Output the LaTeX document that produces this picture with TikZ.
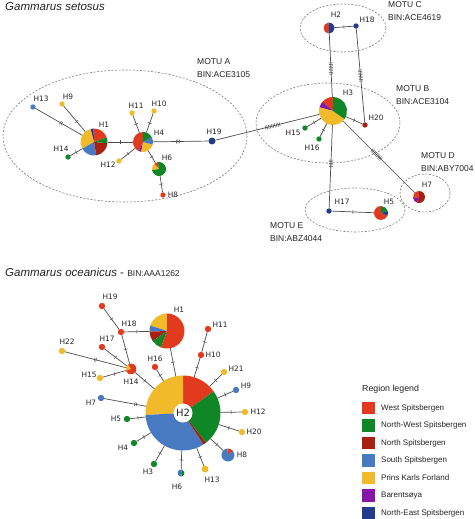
\documentclass[tikz,border=0pt]{standalone}
\usepackage{fontspec}
\setmainfont{Liberation Sans}
\newfontfamily\hfont{DejaVu Sans}
\usetikzlibrary{decorations.markings}
\definecolor{cW}{RGB}{226,58,30}
\definecolor{cNW}{RGB}{16,135,38}
\definecolor{cN}{RGB}{168,32,18}
\definecolor{cS}{RGB}{72,122,194}
\definecolor{cP}{RGB}{240,186,42}
\definecolor{cB}{RGB}{135,22,168}
\definecolor{cNE}{RGB}{36,58,140}
\definecolor{edgec}{RGB}{75,75,75}
\definecolor{motuc}{RGB}{120,120,120}
\definecolor{txtc}{RGB}{35,35,35}
\tikzset{
  dot/.style={circle, fill=#1, inner sep=0pt, outer sep=0pt, minimum size=5.4pt},
  bdot/.style={circle, fill=#1, inner sep=0pt, outer sep=0pt, minimum size=6.4pt},
  lbl/.style={font=\hfont\fontsize{7.4}{8}\selectfont, inner sep=0pt, text=txtc},
  motu/.style={draw=motuc, dash pattern=on 2pt off 1.6pt, line width=0.6pt},
  motutxt/.style={font=\fontsize{8.5}{13}\selectfont, align=left, anchor=north west, inner sep=0pt, text=txtc},
  link/.style={draw=edgec, line width=0.7pt},
  sq/.style={minimum size=12.5pt, inner sep=0pt, outer sep=0pt},
  legtxt/.style={font=\fontsize{8}{9}\selectfont, anchor=west, inner sep=0pt, text=txtc},
  ticks/.style n args={2}{postaction={decorate, decoration={markings,
     mark=at position #2 with {\foreach \k in {1,...,#1}{\draw[edgec, line width=0.5pt] ({(\k-(#1+1)/2)*1.6pt},-2pt) -- ++(0pt,4pt);}}}}}
}
\newcommand\lnk[4]{\path[link, ticks={#3}{#4}] (#1) -- (#2);}
\newcommand\piechart[4]{%
  \node[circle, inner sep=0pt, outer sep=0pt, minimum size=#3*2pt] (#1) at (#2) {};
  \foreach \a/\b/\c in {#4}{\fill[\c] (#1.center) -- ++(\a:#3pt) arc[start angle=\a, end angle=\b, radius=#3pt] -- cycle;}%
}
\begin{document}
\begin{tikzpicture}[x=1pt,y=-1pt]
\useasboundingbox (0,0) rectangle (474,519);
% titles
\node[anchor=base west, inner sep=0pt, font=\itshape\fontsize{11.5}{13}\selectfont, text=txtc] (title1) at (5,11) {Gammarus setosus};
\node[anchor=base west, inner sep=0pt, font=\fontsize{11.5}{13}\selectfont, text=txtc] (title2) at (5,276) {\textit{Gammarus oceanicus} - {\fontsize{8.5}{10}\selectfont BIN:AAA1262}};
% MOTU ellipses
\draw[motu] (125,136) ellipse [x radius=122, y radius=66];
\draw[motu] (328,123) ellipse [x radius=72, y radius=40];
\draw[motu] (343,28) ellipse [x radius=43, y radius=24];
\draw[motu] (425,193) ellipse [x radius=25, y radius=19];
\draw[motu] (355,210) ellipse [x radius=50, y radius=22];
\node[motutxt] (mA) at (197,58) {MOTU A\\BIN:ACE3105};
\node[motutxt] (mB) at (396,85) {MOTU B\\BIN:ACE3104};
\node[motutxt] (mC) at (388,1) {MOTU C\\BIN:ACE4619};
\node[motutxt] (mD) at (421,152) {MOTU D\\BIN:ABY7004};
\node[motutxt] (mE) at (270,222) {MOTU E\\BIN:ABZ4044};
% ---- top network nodes
\piechart{t1}{94,142}{13.5}{20/92/cW, 92/105/cNE, 105/210/cP, 210/280/cS, 280/355/cN, 355/380/cNW}
\piechart{t4}{143,142}{10}{90/245/cW, 245/260/cB, 260/345/cP, 345/390/cS, 390/450/cNW}
\piechart{t6}{159,169}{7}{100/135/cW, 135/190/cP, 190/460/cNW}
\piechart{t3}{333,111}{14}{90/140/cW, 140/165/cB, 165/325/cP, 325/450/cNW}
\piechart{t2}{329,28}{5.5}{95/265/cW, 265/455/cNE}
\piechart{t5}{381,213}{7}{15/90/cNW, -25/15/cNE, 90/335/cW}
\piechart{t7}{419,197}{6}{90/190/cW, 190/250/cB, 250/450/cN}
\node[dot=cS] (t13) at (33,107) {};
\node[dot=cP] (t9) at (62,104) {};
\node[dot=cNW] (t14) at (68,157) {};
\node[dot=cP] (t11) at (132,113) {};
\node[dot=cP] (t10) at (154,111) {};
\node[dot=cP] (t12) at (119,161) {};
\node[dot=cW] (t8) at (163,195) {};
\node[dot=cNE, minimum size=7pt] (t19) at (212,141) {};
\node[dot=cN] (t20) at (365,125) {};
\node[dot=cNW] (t15) at (305,128) {};
\node[dot=cNW] (t16) at (319,139) {};
\node[dot=cNE] (t18) at (356,26) {};
\node[dot=cNE] (t17) at (329,211) {};
% top edges
\lnk{t13}{t1}{2}{0.55}
\lnk{t9}{t1}{1}{0.6}
\lnk{t14}{t1}{1}{0.5}
\lnk{t1}{t4}{1}{0.5}
\lnk{t4}{t11}{1}{0.5}
\lnk{t4}{t10}{1}{0.5}
\lnk{t4}{t12}{1}{0.5}
\lnk{t4}{t6}{1}{0.5}
\lnk{t6}{t8}{1}{0.5}
\lnk{t4}{t19}{3}{0.45}
\lnk{t19}{t3}{10}{0.55}
\lnk{t3}{t15}{1}{0.5}
\lnk{t3}{t16}{1}{0.5}
\lnk{t3}{t20}{1}{0.5}
\lnk{t2}{t3}{8}{0.55}
\lnk{t18}{t20}{8}{0.5}
\lnk{t2}{t18}{1}{0.5}
\lnk{t3}{t17}{5}{0.46}
\lnk{t17}{t5}{1}{0.5}
\lnk{t3}{t7}{9}{0.47}
% top labels
\node[lbl] (lt13) at (41,99) {H13};
\node[lbl] (lt9) at (68,97) {H9};
\node[lbl] (lt1) at (104,125) {H1};
\node[lbl] (lt14) at (61,149) {H14};
\node[lbl] (lt4) at (159,133) {H4};
\node[lbl] (lt11) at (136,106) {H11};
\node[lbl] (lt10) at (159,104) {H10};
\node[lbl] (lt12) at (108,165) {H12};
\node[lbl] (lt6) at (167,158) {H6};
\node[lbl] (lt8) at (173,195) {H8};
\node[lbl] (lt19) at (214,132) {H19};
\node[lbl] (lt3) at (348,93) {H3};
\node[lbl] (lt20) at (376,118) {H20};
\node[lbl] (lt15) at (293,133) {H15};
\node[lbl] (lt16) at (312,148) {H16};
\node[lbl] (lt2) at (336,15) {H2};
\node[lbl] (lt18) at (367,20) {H18};
\node[lbl] (lt17) at (342,202) {H17};
\node[lbl] (lt5) at (389,202) {H5};
\node[lbl] (lt7) at (427,185) {H7};
% ---- bottom network nodes
\piechart{b1}{167,331}{17.5}{90/162/cP, 162/182/cS, 182/215/cN, 215/250/cNW, 250/450/cW}
\piechart{b2}{183,413}{37.5}{35/90/cW, 90/183/cP, 183/303/cS, 303/308/cN, 308/395/cNW}
\piechart{b14}{131,369}{5.5}{120/200/cP, 200/480/cW}
\piechart{b8}{228,455}{6.5}{40/95/cW, 95/400/cS}
\piechart{b6}{181,473}{3.5}{-70/70/cNW, 70/290/cS}
\node[bdot=cW] (b19) at (102,306) {};
\node[bdot=cW] (b18) at (121,332) {};
\node[bdot=cW] (b17) at (102,347) {};
\node[bdot=cP] (b22) at (62,351) {};
\node[bdot=cP] (b15) at (100,378) {};
\node[bdot=cW] (b16) at (155,367) {};
\node[bdot=cS] (b7) at (101,398) {};
\node[bdot=cNW] (b5) at (127,419) {};
\node[bdot=cNW] (b4) at (134,443) {};
\node[bdot=cNW] (b3) at (154,464) {};
\node[bdot=cP, minimum size=7pt] (b13) at (205,469) {};
\node[bdot=cW] (b11) at (208,329) {};
\node[bdot=cW] (b10) at (201,355) {};
\node[bdot=cP] (b21) at (224,372) {};
\node[bdot=cS] (b9) at (236,390) {};
\node[bdot=cP] (b12) at (245,412) {};
\node[bdot=cP] (b20) at (242,432) {};
% bottom edges
\lnk{b19}{b18}{1}{0.5}
\lnk{b18}{b1}{1}{0.5}
\lnk{b18}{b14}{1}{0.5}
\lnk{b17}{b14}{1}{0.5}
\lnk{b22}{b14}{2}{0.5}
\lnk{b15}{b14}{1}{0.5}
\lnk{b14}{b2}{1}{0.5}
\lnk{b16}{b2}{1}{0.5}
\lnk{b1}{b2}{1}{0.5}
\lnk{b7}{b2}{2}{0.75}
\lnk{b5}{b2}{1}{0.5}
\lnk{b4}{b2}{1}{0.5}
\lnk{b3}{b2}{1}{0.5}
\lnk{b6}{b2}{1}{0.5}
\lnk{b13}{b2}{1}{0.5}
\lnk{b8}{b2}{1}{0.5}
\lnk{b20}{b2}{1}{0.5}
\lnk{b12}{b2}{1}{0.5}
\lnk{b9}{b2}{1}{0.5}
\lnk{b21}{b2}{1}{0.5}
\lnk{b10}{b2}{1}{0.5}
\lnk{b11}{b10}{1}{0.5}
\node[circle, fill=white, minimum size=19pt, inner sep=0pt, font=\hfont\fontsize{10}{12}\selectfont, text=txtc] (lb2) at (b2) {H2};
% bottom labels
\node[lbl] (lb19) at (110,297) {H19};
\node[lbl] (lb18) at (129,324) {H18};
\node[lbl] (lb1) at (179,310) {H1};
\node[lbl] (lb17) at (107,339) {H17};
\node[lbl] (lb22) at (67,342) {H22};
\node[lbl] (lb14) at (131,382) {H14};
\node[lbl] (lb15) at (89,375) {H15};
\node[lbl] (lb16) at (155,359) {H16};
\node[lbl] (lb7) at (91,403) {H7};
\node[lbl] (lb5) at (116,419) {H5};
\node[lbl] (lb4) at (123,448) {H4};
\node[lbl] (lb3) at (148,472) {H3};
\node[lbl] (lb6) at (177,487) {H6};
\node[lbl] (lb13) at (212,480) {H13};
\node[lbl] (lb8) at (242,455) {H8};
\node[lbl] (lb11) at (220,325) {H11};
\node[lbl] (lb10) at (213,355) {H10};
\node[lbl] (lb21) at (236,369) {H21};
\node[lbl] (lb9) at (246,386) {H9};
\node[lbl] (lb12) at (258,412) {H12};
\node[lbl] (lb20) at (254,432) {H20};
% legend
\node[anchor=west, inner sep=0pt, font=\fontsize{8.8}{10}\selectfont, text=txtc] (leghead) at (362,389) {Region legend};
\node[sq, fill=cW] (sq1) at (368.5,408) {};
\node[sq, fill=cNW] (sq2) at (368.5,425.5) {};
\node[sq, fill=cN] (sq3) at (368.5,443) {};
\node[sq, fill=cS] (sq4) at (368.5,460.5) {};
\node[sq, fill=cP] (sq5) at (368.5,478) {};
\node[sq, fill=cB] (sq6) at (368.5,495.5) {};
\node[sq, fill=cNE] (sq7) at (368.5,513) {};
\node[legtxt] (lg1) at (381,408) {West Spitsbergen};
\node[legtxt] (lg2) at (381,425.5) {North-West Spitsbergen};
\node[legtxt] (lg3) at (381,443) {North Spitsbergen};
\node[legtxt] (lg4) at (381,460.5) {South Spitsbergen};
\node[legtxt] (lg5) at (381,478) {Prins Karls Forland};
\node[legtxt] (lg6) at (381,495.5) {Barentsøya};
\node[legtxt] (lg7) at (381,513) {North-East Spitsbergen};
\end{tikzpicture}
\end{document}
